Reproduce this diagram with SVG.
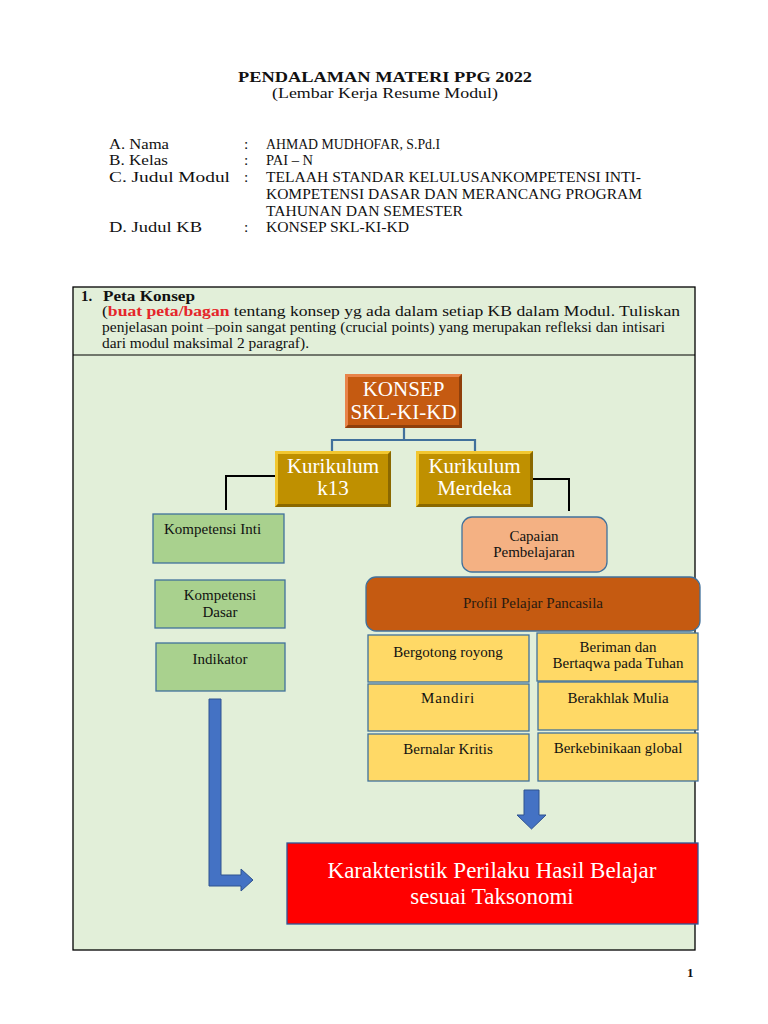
<svg xmlns="http://www.w3.org/2000/svg" width="768" height="1024" viewBox="0 0 768 1024">
<style>
text{font-family:"Liberation Serif","Times New Roman",serif;fill:#111}
.b{font-weight:bold}
.inf{font-size:15.5px}
.hd{font-size:14.5px}
.wt{fill:#fff}
.big{font-size:21px}
.nd{font-size:15px}
.c{text-anchor:middle}
.grn{fill:#a9d18e;stroke:#41719c;stroke-width:1.3}
.yel{fill:#ffd966;stroke:#41719c;stroke-width:1.3}
.blk{fill:none;stroke:#000;stroke-width:2}
.tree{fill:none;stroke:#41719c;stroke-width:2.2}
.arw{fill:#4472c4;stroke:#2f528f;stroke-width:1}
</style>
<rect width="768" height="1024" fill="#fff"/>

<g id="header">
<text class="b c" x="385" y="82" font-size="15" textLength="294" lengthAdjust="spacingAndGlyphs">PENDALAMAN MATERI PPG 2022</text>
<text class="c" x="385" y="98" font-size="15" textLength="226" lengthAdjust="spacingAndGlyphs">(Lembar Kerja Resume Modul)</text>
<text class="inf" x="109" y="149" textLength="60" lengthAdjust="spacingAndGlyphs">A. Nama</text>
<text class="inf" x="109" y="165" textLength="59" lengthAdjust="spacingAndGlyphs">B. Kelas</text>
<text class="inf" x="109" y="182" textLength="121" lengthAdjust="spacingAndGlyphs">C. Judul Modul</text>
<text class="inf" x="109" y="232" textLength="93" lengthAdjust="spacingAndGlyphs">D. Judul KB</text>
<text class="inf" x="244" y="149">:</text>
<text class="inf" x="244" y="165">:</text>
<text class="inf" x="244" y="182">:</text>
<text class="inf" x="244" y="232">:</text>
<text class="inf" x="266" y="149" textLength="174" lengthAdjust="spacingAndGlyphs">AHMAD MUDHOFAR, S.Pd.I</text>
<text class="inf" x="266" y="165" textLength="47" lengthAdjust="spacingAndGlyphs">PAI – N</text>
<text class="inf" x="266" y="182" textLength="375" lengthAdjust="spacingAndGlyphs">TELAAH STANDAR KELULUSANKOMPETENSI INTI-</text>
<text class="inf" x="266" y="199" textLength="376" lengthAdjust="spacingAndGlyphs">KOMPETENSI DASAR DAN MERANCANG PROGRAM</text>
<text class="inf" x="266" y="216" textLength="197" lengthAdjust="spacingAndGlyphs">TAHUNAN DAN SEMESTER</text>
<text class="inf" x="266" y="232" textLength="143" lengthAdjust="spacingAndGlyphs">KONSEP SKL-KI-KD</text>
</g>

<g id="table">
<rect x="73" y="287" width="622" height="663" fill="#e2efd9" stroke="#000" stroke-width="1.3"/>
<line x1="73" y1="355" x2="695" y2="355" stroke="#000" stroke-width="1.2"/>
<text class="b" x="81" y="301" font-size="15">1.</text>
<text class="b" x="103" y="301" font-size="15" textLength="92" lengthAdjust="spacingAndGlyphs">Peta Konsep</text>
<text x="102" y="316" font-size="15.5" textLength="578" lengthAdjust="spacingAndGlyphs">(<tspan class="b" style="fill:#e5262a">buat peta/bagan</tspan> tentang konsep yg ada dalam setiap KB dalam Modul. Tuliskan</text>
<text class="hd" x="102" y="332" textLength="563" lengthAdjust="spacingAndGlyphs">penjelasan point –poin sangat penting (crucial points) yang merupakan refleksi dan intisari</text>
<text class="hd" x="102" y="348" textLength="207" lengthAdjust="spacingAndGlyphs">dari modul maksimal 2 paragraf).</text>
</g>

<g id="connectors">
<path class="tree" d="M404,428 V440 M332,440 H475 M332,439 V451 M475,439 V451"/>
<path class="blk" d="M275,476 H226 V510"/>
<path class="blk" d="M533,479 H569 V511"/>
<path class="arw" d="M209,699 L221,699 L221,875 L241,875 L241,869 L253,880 L241,891 L241,886 L209,886 Z"/>
<path class="arw" d="M524,790 L539,790 L539,815 L546,815 L531.5,829 L517,815 L524,815 Z"/>
</g>

<g id="konsep">
<rect x="345" y="374" width="117" height="54" fill="#c55a11"/>
<path d="M345,374 H462 L459,377 H348 V425 L345,428 Z" fill="#e8844a"/>
<path d="M462,374 V428 H345 L348,425 H459 V377 Z" fill="#8f3f0b"/>
<text class="wt big c" x="403.5" y="396">KONSEP</text>
<text class="wt big c" x="403.5" y="419">SKL-KI-KD</text>
</g>

<g id="k13">
<rect x="275" y="451" width="116" height="56" fill="#bf9000"/>
<path d="M275,451 H391 L388,454 H278 V504 L275,507 Z" fill="#f2c730"/>
<path d="M391,451 V507 H275 L278,504 H388 V454 Z" fill="#8a6800"/>
<text class="wt big c" x="333" y="473">Kurikulum</text>
<text class="wt big c" x="333" y="495">k13</text>
</g>

<g id="merdeka">
<rect x="416" y="451" width="117" height="56" fill="#bf9000"/>
<path d="M416,451 H533 L530,454 H419 V504 L416,507 Z" fill="#f2c730"/>
<path d="M533,451 V507 H416 L419,504 H530 V454 Z" fill="#8a6800"/>
<text class="wt big c" x="474.5" y="473">Kurikulum</text>
<text class="wt big c" x="474.5" y="495">Merdeka</text>
</g>

<g id="ki">
<rect class="grn" x="153" y="514" width="131" height="49"/>
<text class="nd" x="164" y="534">Kompetensi Inti</text>
</g>
<g id="kd">
<rect class="grn" x="155" y="580" width="130" height="48"/>
<text class="nd c" x="220" y="600">Kompetensi</text>
<text class="nd c" x="220" y="617">Dasar</text>
</g>
<g id="indikator">
<rect class="grn" x="156" y="643" width="129" height="48"/>
<text class="nd c" x="220" y="664">Indikator</text>
</g>

<g id="capaian">
<rect x="462" y="517" width="145" height="55" rx="10" fill="#f4b183" stroke="#41719c" stroke-width="1.3"/>
<text class="nd c" x="534" y="541">Capaian</text>
<text class="nd c" x="534" y="557">Pembelajaran</text>
</g>

<g id="profil">
<rect x="366" y="577" width="334" height="54" rx="10" fill="#c55a11" stroke="#41719c" stroke-width="1.3"/>
<text class="nd c" x="533" y="608" style="fill:#2a1a10">Profil Pelajar Pancasila</text>
</g>

<g id="gotong">
<rect class="yel" x="368" y="635" width="161" height="47"/>
<text class="nd c" x="448" y="657">Bergotong royong</text>
</g>
<g id="beriman">
<rect class="yel" x="537" y="633" width="161" height="48"/>
<text class="nd c" x="618" y="652">Beriman dan</text>
<text class="nd c" x="618" y="668">Bertaqwa pada Tuhan</text>
</g>
<g id="mandiri">
<rect class="yel" x="368" y="684" width="161" height="47"/>
<text class="nd c" x="448" y="703" letter-spacing="0.8">Mandiri</text>
</g>
<g id="akhlak">
<rect class="yel" x="538" y="682" width="160" height="48"/>
<text class="nd c" x="618" y="703">Berakhlak Mulia</text>
</g>
<g id="nalar">
<rect class="yel" x="368" y="734" width="161" height="47"/>
<text class="nd c" x="448" y="754">Bernalar Kritis</text>
</g>
<g id="kebinekaan">
<rect class="yel" x="538" y="733" width="160" height="48"/>
<text class="nd c" x="618" y="753">Berkebinikaan global</text>
</g>

<g id="karakteristik">
<rect x="287" y="843" width="411" height="81" fill="#ff0000" stroke="#2f5597" stroke-width="1.3"/>
<text class="wt c" x="492" y="878" font-size="23">Karakteristik Perilaku Hasil Belajar</text>
<text class="wt c" x="492" y="904" font-size="23">sesuai Taksonomi</text>
</g>

<text class="b" x="687" y="977" font-size="13">1</text>
</svg>
